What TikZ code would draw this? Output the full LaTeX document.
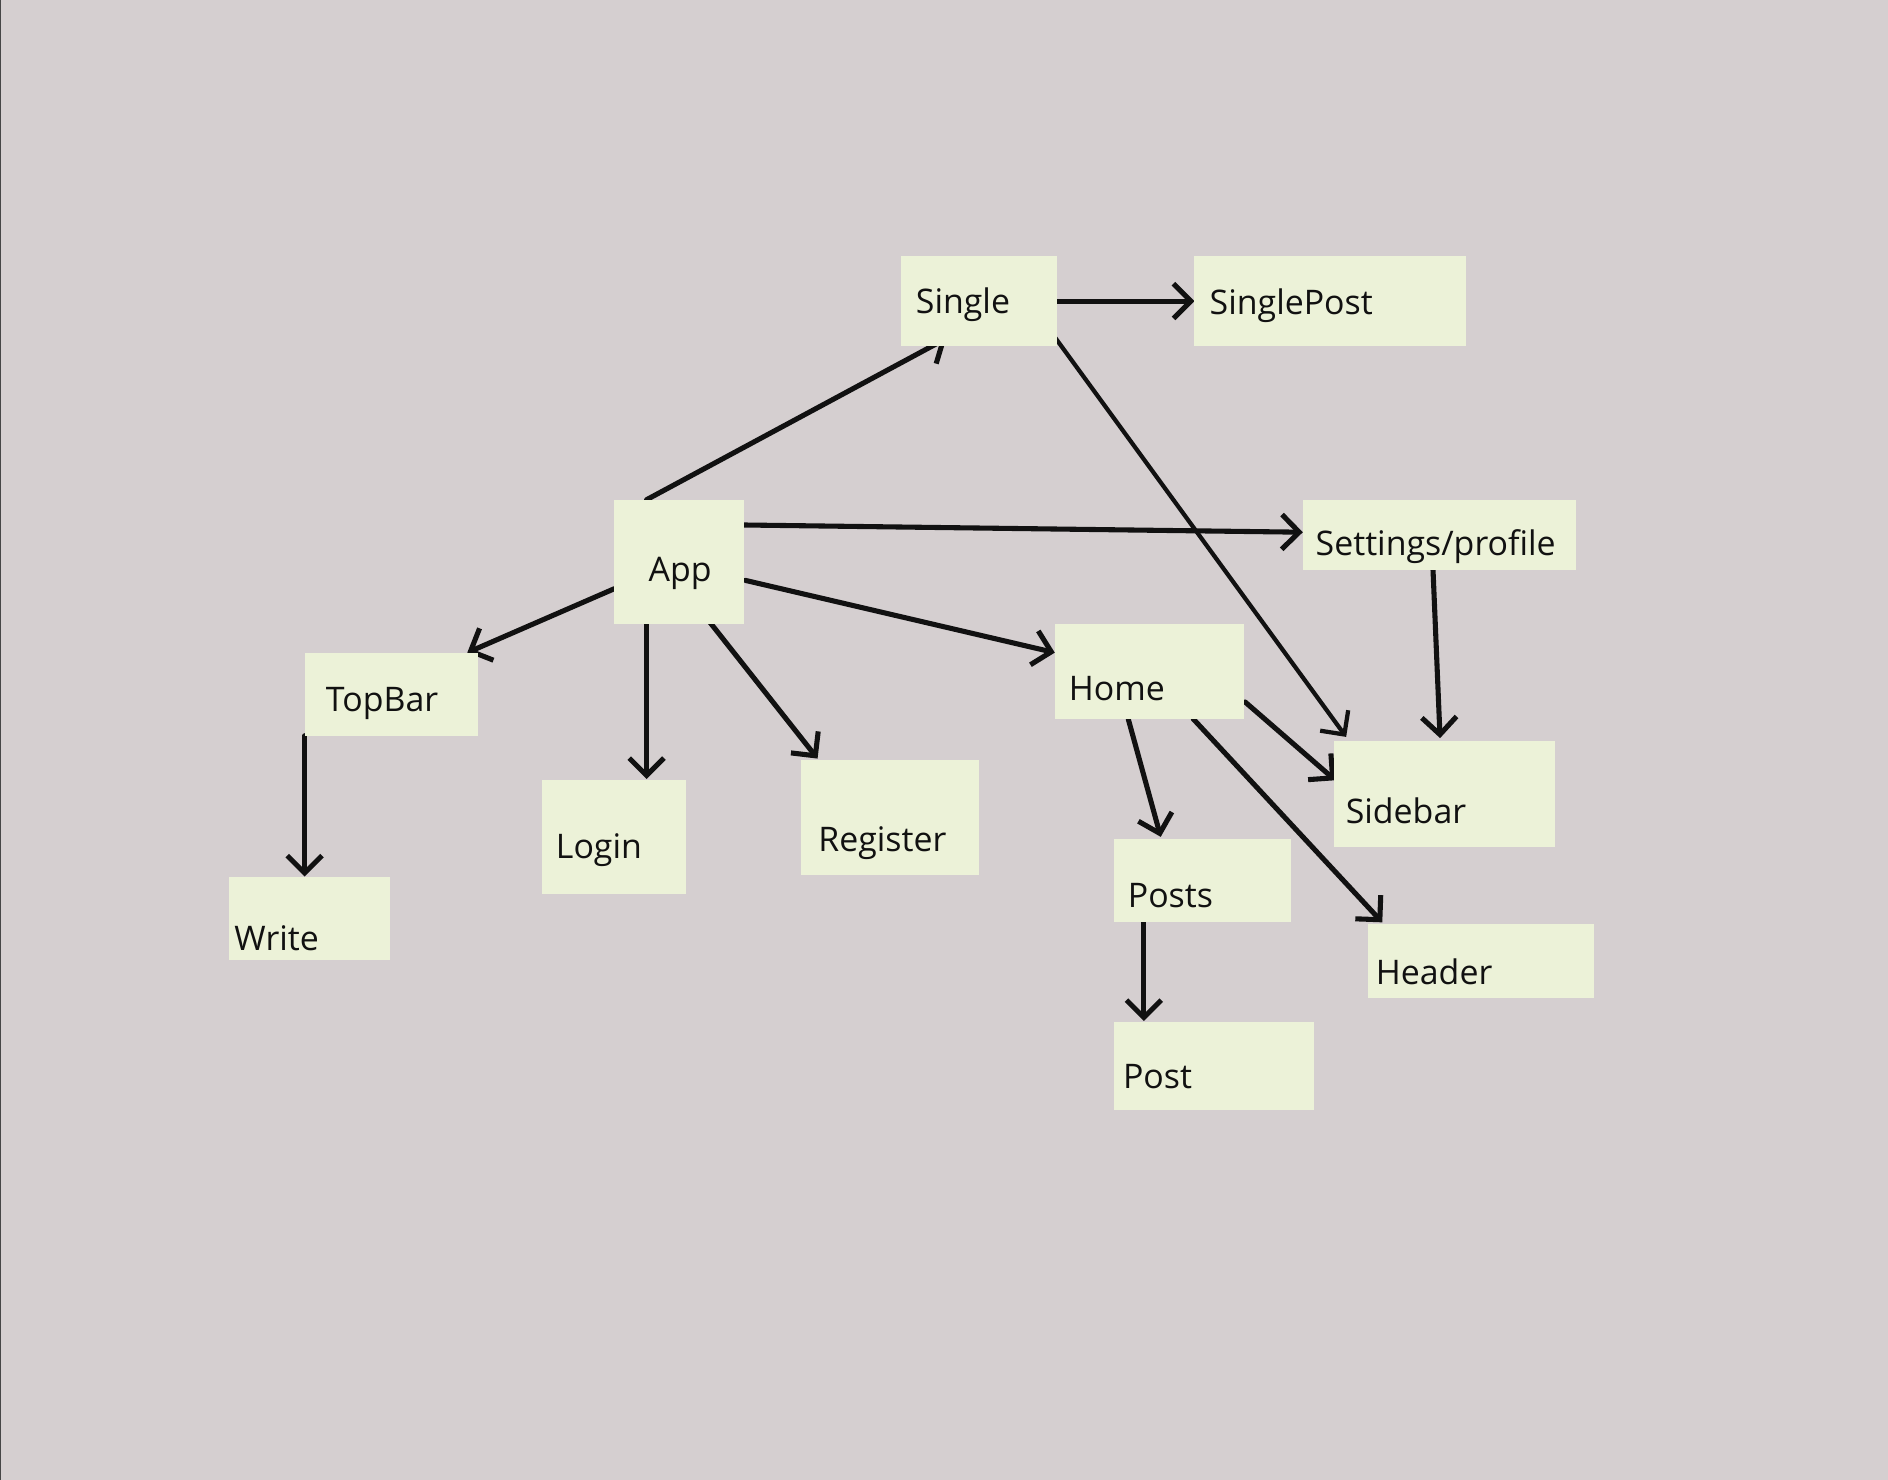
\documentclass[tikz,border=0pt]{standalone}
\usepackage{fontspec}
\setmainfont{Open Sans}
\usetikzlibrary{arrows.meta,calc}
\pgfdeclarelayer{bgl}
\pgfdeclarelayer{arrl}
\pgfsetlayers{bgl,arrl,main}
\definecolor{bgc}{RGB}{213,207,208}
\definecolor{boxc}{RGB}{236,242,216}
\definecolor{inkc}{RGB}{17,17,17}
\definecolor{edgec}{RGB}{70,70,70}
\tikzset{
  box/.style={fill=boxc, draw=none, inner sep=0pt, outer sep=0pt, anchor=north west},
  lbl/.style={anchor=base west, inner sep=0pt, text=inkc, font=\fontsize{8}{10}\selectfont},
  conn/.style={draw=inkc, line width=1.2pt, line cap=round, -{Straight Barb[length=4.1pt,width=8.2pt]}},
  thinconn/.style={conn, line width=1.0pt},
}
\begin{document}
\begin{tikzpicture}[x=0.01cm,y=-0.01cm]
\useasboundingbox (0,0) rectangle (1568,1229);
\begin{pgfonlayer}{bgl}
  \fill[bgc] (0,0) rectangle (1568,1229);
  \fill[edgec] (0,0) rectangle (1.2,1229);
\end{pgfonlayer}

% boxes
\node[box, minimum width=1.30cm, minimum height=0.74cm] (single) at (748,213) {};
\node[box, minimum width=2.25cm, minimum height=0.74cm] (singlepost) at (992,213) {};
\node[box, minimum width=1.08cm, minimum height=1.03cm] (app) at (510,415) {};
\node[box, minimum width=2.27cm, minimum height=0.58cm] (settings) at (1082,415) {};
\node[box, minimum width=1.44cm, minimum height=0.69cm] (topbar) at (253,542) {};
\node[box, minimum width=1.57cm, minimum height=0.79cm] (home) at (876,518) {};
\node[box, minimum width=1.83cm, minimum height=0.88cm] (sidebar) at (1108,615) {};
\node[box, minimum width=1.20cm, minimum height=0.94cm] (login) at (450,648) {};
\node[box, minimum width=1.48cm, minimum height=0.96cm] (register) at (665,631) {};
\node[box, minimum width=1.34cm, minimum height=0.69cm] (write) at (190,728) {};
\node[box, minimum width=1.47cm, minimum height=0.69cm] (posts) at (925,697) {};
\node[box, minimum width=1.88cm, minimum height=0.62cm] (header) at (1136,767) {};
\node[box, minimum width=1.66cm, minimum height=0.73cm] (post) at (925,849) {};

% labels
\node[lbl] (singleT) at (760,260) {Single};
\node[lbl] (singlepostT) at (1004,261) {SinglePost};
\node[lbl] (appT) at (538,483) {App};
\node[lbl] (settingsT) at (1092,461) {Settings/profile};
\node[lbl] (topbarT) at (270,591) {TopBar};
\node[lbl] (homeT) at (887,582) {Home};
\node[lbl] (sidebarT) at (1117,684) {Sidebar};
\node[lbl] (loginT) at (461,713) {Login};
\node[lbl] (registerT) at (679,707) {Register};
\node[lbl] (writeT) at (194,789) {Write};
\node[lbl] (postsT) at (936,754) {Posts};
\node[lbl] (headerT) at (1142,818) {Header};
\node[lbl] (postT) at (932,904) {Post};

% connectors
\begin{pgfonlayer}{arrl}
  \draw[conn] ($(app.north west)+(27,0)$) -- ($(single.south west)+(38,-6)$);
  \draw[conn] ($(app.north east)+(0,21)$) -- ($(settings.north west)+(0,27)$);
  \draw[conn] ($(app.north west)+(0,74)$) -- ($(topbar.north east)+(-9,0)$);
  \draw[conn] ($(app.south west)+(27,0)$) -- ($(login.north west)+(87,-1)$);
  \draw[conn] ($(app.south west)+(79,-2)$) -- ($(register.north west)+(14,-1)$);
  \draw[conn] ($(app.north east)+(1,67)$) -- ($(home.north west)+(0,24)$);
  \draw[conn] (single.east) -- (singlepost.west);
  \draw[thinconn] ($(single.south east)+(-2,-7)$) -- ($(sidebar.north west)+(10,-3)$);
  \draw[conn] ($(settings.south west)+(108,-3)$) -- ($(sidebar.north west)+(88,-2)$);
  \draw[conn] ($(home.north east)+(1,65)$) -- ($(sidebar.north west)+(1,33)$);
  \draw[conn] ($(home.south west)+(115,0)$) -- ($(header.north west)+(12,-1)$);
  \draw[conn] ($(home.south west)+(61,0)$) -- ($(posts.north west)+(39,-2)$);
  \draw[conn] ($(posts.south west)+(25,0)$) -- ($(post.north west)+(25,-1)$);
  \draw[conn] (topbar.south west) -- ($(write.north west)+(63,0)$);
\end{pgfonlayer}
\end{tikzpicture}
\end{document}
